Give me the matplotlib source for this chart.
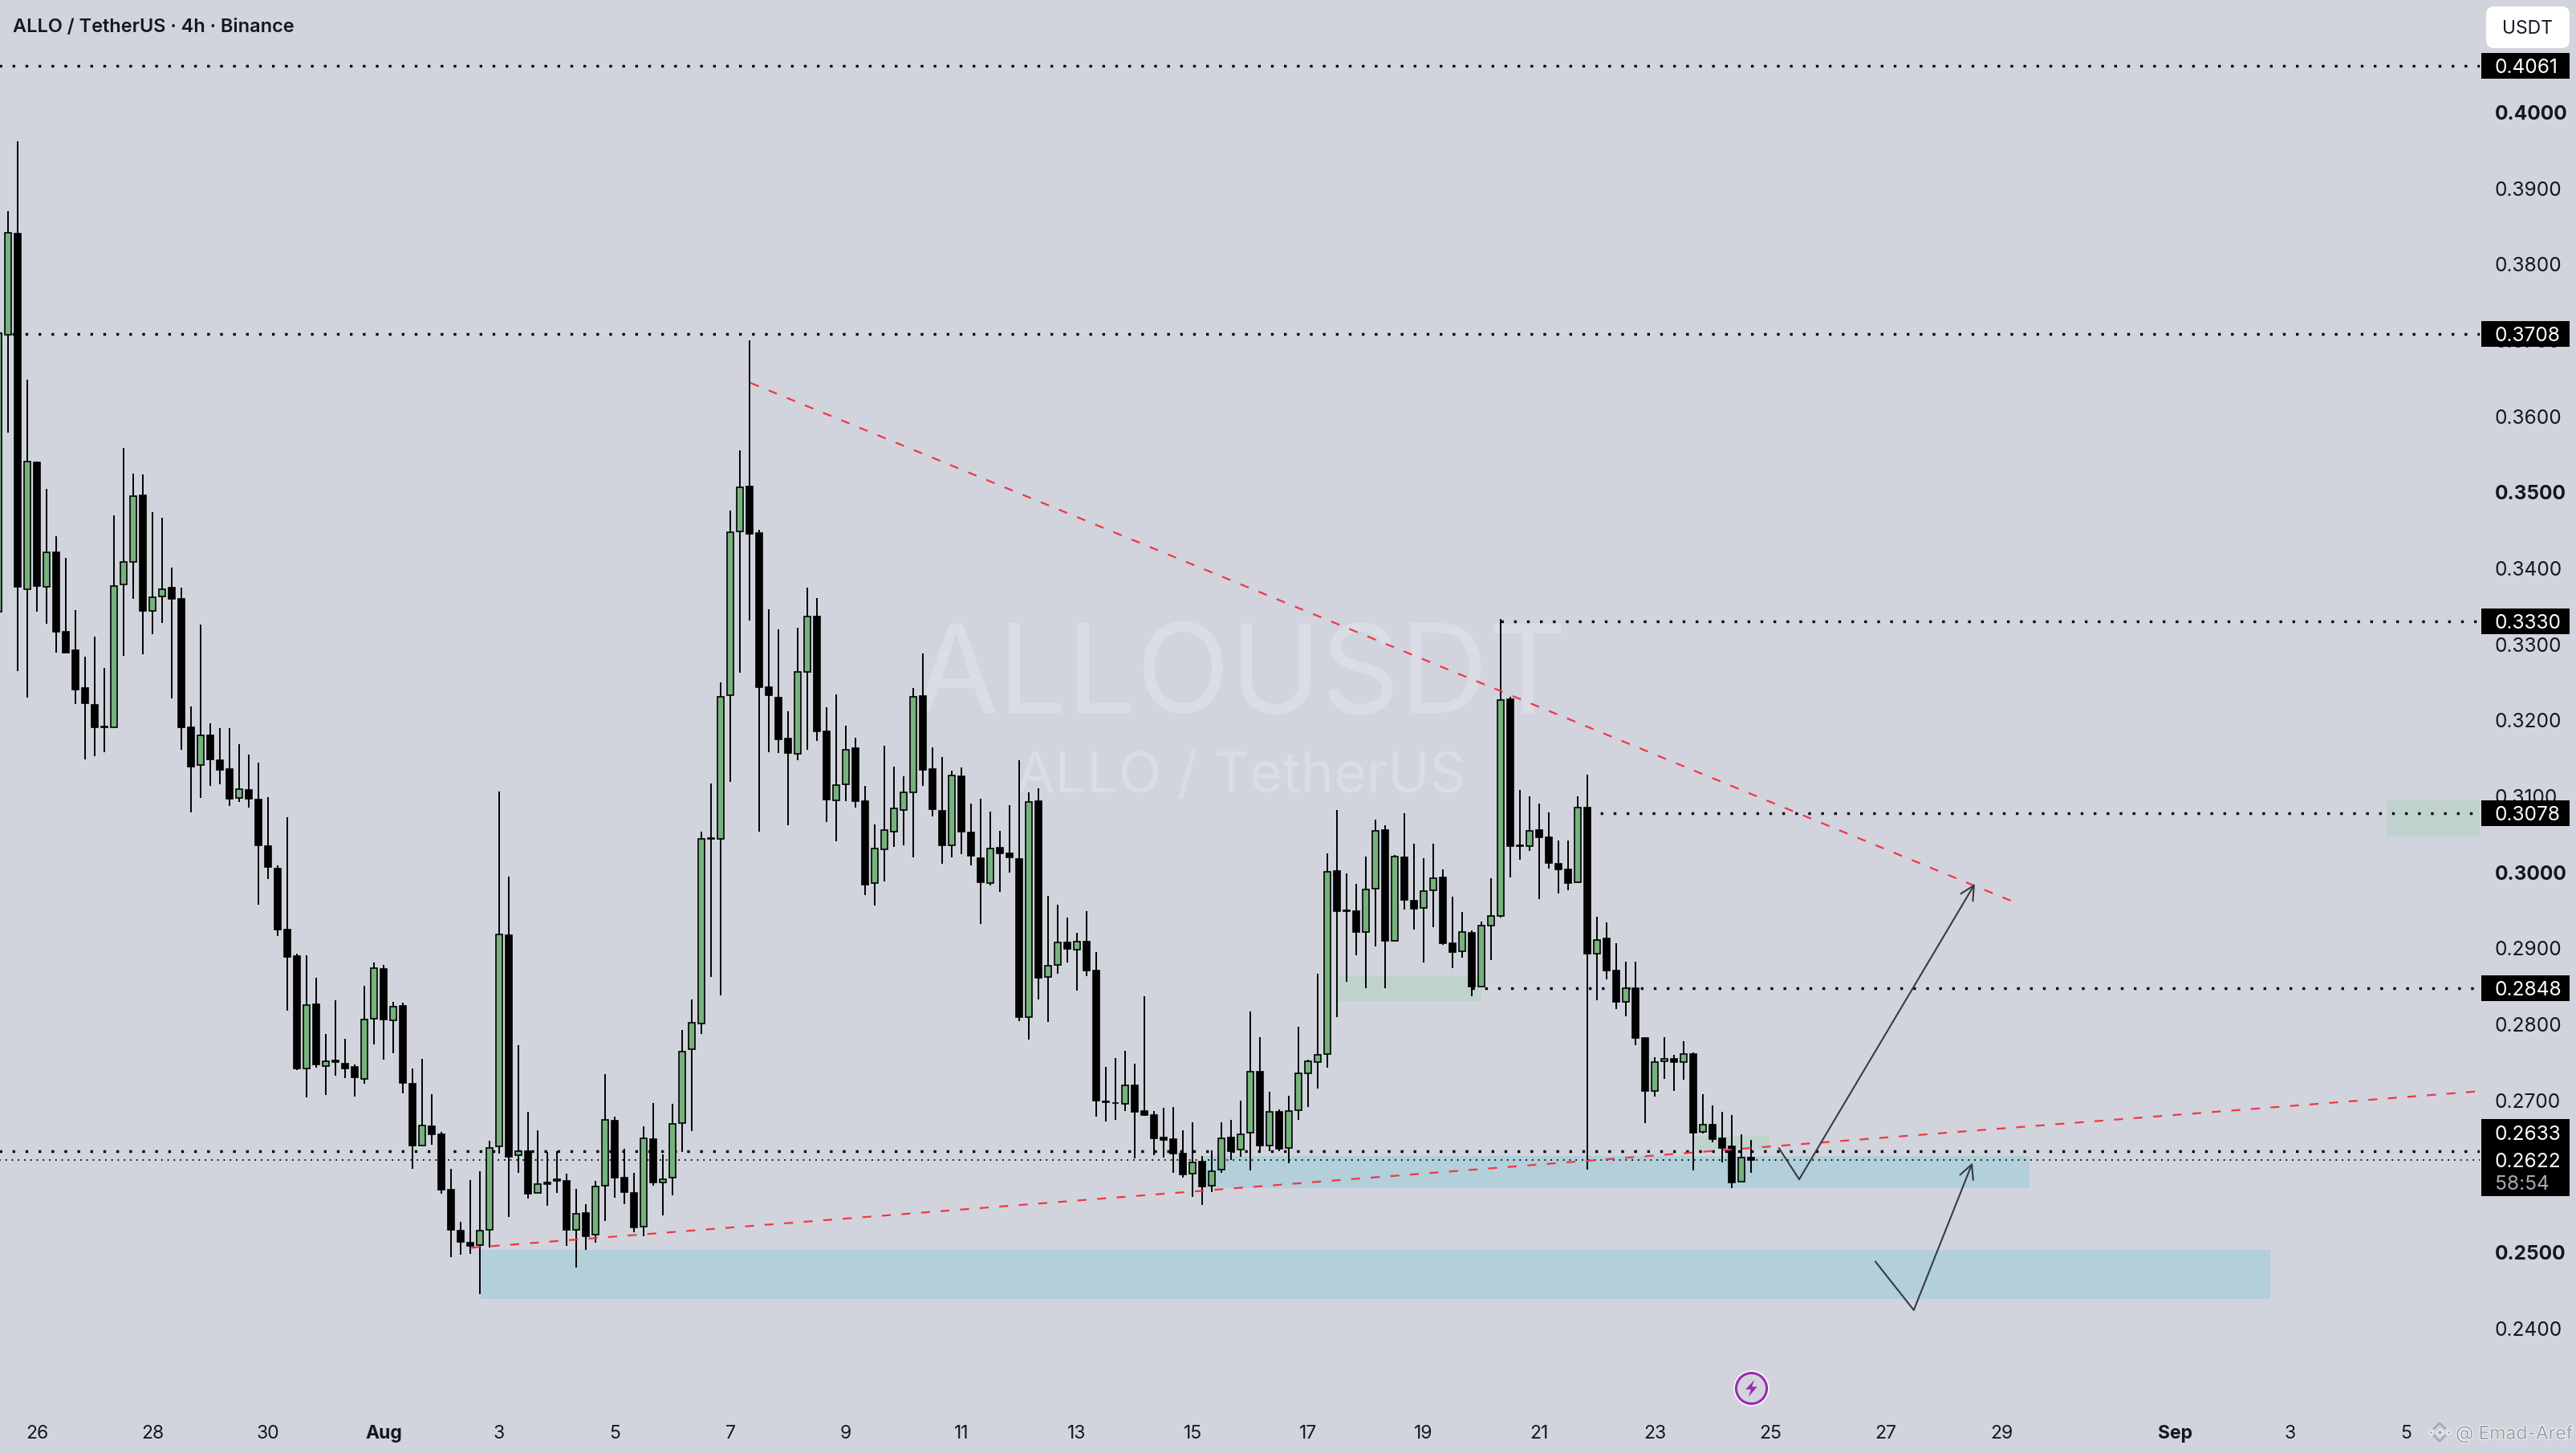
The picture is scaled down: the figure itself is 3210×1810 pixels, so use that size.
import numpy as np
import matplotlib
matplotlib.use('Agg')
import matplotlib.pyplot as plt
import matplotlib.patheffects as pe
from matplotlib.patches import Rectangle, FancyBboxPatch

plt.rcParams['font.family'] = ['Inter', 'DejaVu Sans']

# 4h candles, first one is partly cut by the left edge
opens = [.3343,.3707,.3840,.3372,.3539,.3376,.3421,.3317,.3292,.3243,
         .3220,.3192,.3191,.3379,.3408,.3496,.3344,.3363,.3375,.3360,
         .3191,.3141,.3180,.3147,.3136,.3098,.3108,.3096,.3035,.3005,
         .2925,.2890,.2742,.2826,.2745,.2752,.2748,.2744,.2728,.2807,
         .2873,.2805,.2824,.2722,.2641,.2666,.2655,.2582,.2528,.2513,
         .2509,.2530,.2639,.2917,.2628,.2633,.2578,.2592,.2594,.2594,
         .2530,.2552,.2523,.2588,.2673,.2598,.2578,.2534,.2649,.2592,
         .2598,.2670,.2767,.2801,.3045,.3044,.3233,.3449,.3508,.3446,
         .3244,.3230,.3176,.3156,.3264,.3337,.3186,.3095,.3116,.3163,
         .3094,.2986,.3030,.3054,.3082,.3105,.3232,.3136,.3081,.3036,
         .3126,.3052,.3019,.2986,.3032,.3025,.3018,.2810,.3094,.2862,
         .2878,.2908,.2898,.2909,.2871,.2699,.2697,.2695,.2720,.2686,
         .2681,.2651,.2649,.2630,.2603,.2619,.2588,.2609,.2651,.2635,
         .2657,.2738,.2640,.2685,.2637,.2687,.2736,.2750,.2761,.3002,
         .2950,.2949,.2921,.2979,.3056,.2910,.3020,.2963,.2953,.2976,
         .2993,.2907,.2896,.2920,.2850,.2930,.2943,.3228,.3036,.3035,
         .3056,.3046,.3011,.3004,.2987,.3085,.2893,.2913,.2871,.2830,
         .2847,.2782,.2712,.2751,.2755,.2750,.2761,.2658,.2668,.2650,
         .2639,.2593,.2625]
highs = [.3709,.3870,.3962,.3648,.3540,.3505,.3442,.3414,.3345,.3284,
         .3310,.3269,.3470,.3558,.3525,.3524,.3474,.3467,.3401,.3375,
         .3218,.3326,.3196,.3190,.3190,.3169,.3155,.3144,.3099,.3009,
         .3073,.2893,.2891,.2861,.2787,.2832,.2781,.2747,.2851,.2881,
         .2878,.2830,.2828,.2742,.2755,.2708,.2658,.2610,.2540,.2595,
         .2607,.2647,.3106,.2994,.2773,.2685,.2661,.2632,.2633,.2604,
         .2583,.2563,.2594,.2735,.2679,.2636,.2605,.2666,.2697,.2629,
         .2695,.2793,.2833,.3053,.3117,.3250,.3476,.3555,.3700,.3451,
         .3346,.3320,.3212,.3322,.3375,.3361,.3217,.3234,.3193,.3177,
         .3114,.3063,.3167,.3139,.3126,.3243,.3288,.3164,.3152,.3134,
         .3138,.3090,.3097,.3080,.3055,.3088,.3148,.3105,.3111,.2969,
         .2957,.2940,.2920,.2949,.2895,.2744,.2756,.2765,.2748,.2837,
         .2686,.2690,.2691,.2661,.2671,.2627,.2634,.2671,.2674,.2700,
         .2817,.2783,.2711,.2688,.2706,.2797,.2753,.2867,.3025,.3082,
         .2999,.2985,.3021,.3069,.3062,.3023,.3078,.3038,.3019,.3038,
         .3004,.2968,.2948,.2924,.2935,.2992,.3333,.3231,.3108,.3100,
         .3091,.3079,.3042,.3042,.3100,.3128,.2942,.2934,.2907,.2882,
         .2882,.2782,.2757,.2783,.2760,.2778,.2763,.2708,.2693,.2685,
         .2681,.2655,.2648]
lows = [.3343,.3578,.3265,.3230,.3343,.3327,.3289,.3289,.3221,.3149,
        .3153,.3158,.3191,.3285,.3360,.3287,.3313,.3328,.3229,.3161,
        .3079,.3098,.3114,.3116,.3087,.3093,.3085,.2957,.2991,.2916,
        .2818,.2740,.2704,.2743,.2707,.2732,.2729,.2705,.2722,.2774,
        .2753,.2762,.2709,.2610,.2641,.2642,.2577,.2494,.2497,.2498,
        .2445,.2506,.2630,.2546,.2605,.2571,.2578,.2561,.2578,.2508,
        .2480,.2503,.2513,.2541,.2572,.2563,.2526,.2521,.2588,.2549,
        .2575,.2632,.2659,.2787,.2862,.2838,.3119,.3263,.3331,.3053,
        .3158,.3157,.3062,.3147,.3161,.3173,.3066,.3041,.3094,.3085,
        .2970,.2956,.2988,.3033,.3036,.3020,.3114,.3074,.3011,.3020,
        .3024,.3009,.2932,.2983,.2974,.3000,.2804,.2780,.2833,.2803,
        .2867,.2881,.2844,.2863,.2679,.2672,.2674,.2686,.2624,.2680,
        .2628,.2625,.2605,.2598,.2573,.2562,.2579,.2605,.2622,.2626,
        .2608,.2631,.2633,.2633,.2617,.2674,.2691,.2716,.2743,.2809,
        .2856,.2891,.2847,.2902,.2848,.2909,.2951,.2925,.2881,.2928,
        .2905,.2874,.2888,.2837,.2850,.2885,.2941,.2993,.3017,.3028,
        .2965,.3005,.2972,.2976,.2986,.2609,.2832,.2859,.2820,.2811,
        .2773,.2670,.2705,.2728,.2712,.2727,.2608,.2656,.2645,.2618,
        .2584,.2593,.2605]
closes = [.3709,.3841,.3376,.3540,.3377,.3421,.3317,.3289,.3240,.3223,
          .3191,.3191,.3377,.3408,.3495,.3344,.3362,.3373,.3360,.3191,
          .3139,.3180,.3149,.3135,.3097,.3109,.3097,.3036,.3007,.2925,
          .2889,.2742,.2825,.2747,.2751,.2750,.2742,.2730,.2806,.2874,
          .2806,.2823,.2723,.2640,.2667,.2655,.2582,.2530,.2514,.2508,
          .2529,.2637,.2918,.2626,.2633,.2577,.2590,.2590,.2596,.2530,
          .2551,.2521,.2587,.2674,.2598,.2579,.2533,.2650,.2592,.2596,
          .2669,.2764,.2802,.3044,.3044,.3231,.3447,.3507,.3445,.3244,
          .3233,.3175,.3157,.3264,.3337,.3186,.3096,.3115,.3161,.3094,
          .2984,.3031,.3056,.3084,.3105,.3231,.3135,.3083,.3036,.3127,
          .3053,.3022,.2987,.3031,.3025,.3020,.2809,.3093,.2861,.2877,
          .2908,.2899,.2909,.2871,.2700,.2698,.2696,.2720,.2685,.2681,
          .2650,.2648,.2630,.2602,.2618,.2587,.2607,.2650,.2633,.2655,
          .2738,.2640,.2685,.2636,.2686,.2736,.2751,.2760,.3001,.2949,
          .2949,.2921,.2977,.3055,.2910,.3021,.2964,.2952,.2975,.2992,
          .2907,.2895,.2921,.2850,.2930,.2943,.3227,.3035,.3035,.3055,
          .3046,.3012,.3004,.2986,.3085,.2893,.2911,.2871,.2830,.2847,
          .2782,.2712,.2750,.2755,.2750,.2761,.2657,.2668,.2649,.2637,
          .2592,.2625,.2622]

date_ticks = [3, 15, 27, 39, 51, 63, 75, 87, 99, 111, 123, 135, 147, 159, 171,
              183, 195, 207, 225, 237, 249]
date_labels = ['26', '28', '30', 'Aug', '3', '5', '7', '9', '11', '13', '15',
               '17', '19', '21', '23', '25', '27', '29', 'Sep', '3', '5']
# 0.26 sits behind the last price box, so it never shows
price_ticks = [0.24, 0.25, 0.27, 0.28, 0.29, 0.30, 0.31, 0.32, 0.33,
               0.34, 0.35, 0.36, 0.37, 0.38, 0.39, 0.40]

level_prices = [0.4061, 0.3708, 0.3330, 0.3078, 0.2848]
level_starts = [-1, -1, 155, 164, 152]

# zones: candle from, candle to, price low, price high
blue_zones = [(49.1, 234.9, 0.2439, 0.2503), (124.2, 209.9, 0.2585, 0.2627)]
green_zones = [(138, 153, 0.2831, 0.2863), (175.1, 182.9, 0.2635, 0.2653),
               (247, 256.67, 0.3047, 0.3095)]

down_trend_x, down_trend_y = [77.1, 208.3], [0.3644, 0.2961]
up_trend_x, up_trend_y = [48.1, 256.7], [0.2506, 0.2712]

path1_x, path1_y = [183.9, 186, 204.25], [0.2637, 0.2596, 0.2985]
path2_x, path2_y = [193.9, 197.9, 204], [0.2488, 0.2424, 0.2618]

bg = '#d1d4dc'
green = '#75b27c'
ink = '#131722'
W, H = 3210, 1810

x = np.arange(-1, 182)
opens, highs, lows, closes = map(np.array, (opens, highs, lows, closes))
up = closes >= opens

fig = plt.figure(figsize=(W / 100, H / 100), dpi=100, facecolor=bg)
ax = fig.add_axes([0, 1 - 1760 / H, 3090 / W, 1760 / H], facecolor=bg)
ax.set_xlim(-10 / 12, 3080 / 12)
ax.set_ylim(0.25 - 200 / 9467, 0.25 + 1560 / 9467)
for s in ax.spines.values():
    s.set_visible(False)

# watermark
ax.text(1546 / 12 - 10 / 12, 0.25 + (1560 - 888) / 9467, 'ALLOUSDT', fontsize=110,
        color='#dadde5', ha='center', va='baseline', zorder=0)
ax.text(1546 / 12 - 10 / 12, 0.25 + (1560 - 987) / 9467, 'ALLO / TetherUS', fontsize=50.5,
        color='#dadde5', ha='center', va='baseline', zorder=0)

for x0, x1, p0, p1 in blue_zones:
    ax.add_patch(Rectangle((x0, p0), x1 - x0, p1 - p0, fc='#b2cfda', ec='none', zorder=1))
for x0, x1, p0, p1 in green_zones:
    ax.add_patch(Rectangle((x0, p0), x1 - x0, p1 - p0, fc='#bfd2ce', ec='none', zorder=1))

for p, start in zip(level_prices, level_starts):
    ax.plot([start, 256.67], [p, p], color='black', lw=2.4, ls=(0, (1, 3.85)),
            dash_capstyle='butt', zorder=2)
ax.plot([-1, 256.67], [0.2633, 0.2633], color='black', lw=2.4, ls=(0, (1, 3.85)),
        dash_capstyle='butt', zorder=2)
ax.plot([-1, 256.67], [0.2622, 0.2622], color='black', lw=1.3, ls=(0, (1, 3.3)),
        dash_capstyle='butt', zorder=2)

# candles
ax.vlines(x, lows, highs, color='black', lw=1.4, zorder=3)
bottoms = np.minimum(opens, closes)
heights = np.maximum(np.abs(closes - opens), 0.00005)
ax.bar(x, heights, bottom=bottoms, width=0.72, color=np.where(up, green, 'black'),
       edgecolor='black', linewidth=1.2, zorder=4)

for lx, ly in ((down_trend_x, down_trend_y), (up_trend_x, up_trend_y)):
    ax.plot(lx, ly, color='#f23645', lw=1.6, ls=(0, (5, 6)), zorder=5)

for px, py in ((path1_x, path1_y), (path2_x, path2_y)):
    ax.plot(px[:2], py[:2], color='#363a45', lw=1.5, zorder=6, solid_capstyle='round')
    ax.annotate('', xy=(px[2], py[2]), xytext=(px[1], py[1]), zorder=6,
                arrowprops=dict(arrowstyle='->,head_length=0.9,head_width=0.45', color='#363a45',
                                lw=1.5, shrinkA=0, shrinkB=0, mutation_scale=14))

# lightning mark
ax.plot([181], [0.23215], marker='o', ms=32, mfc='white', mec='white', mew=0, zorder=6)
ax.plot([181], [0.23215], marker='o', ms=27.5, mfc=bg, mec='#9c27b0', mew=2.2, zorder=6)
bolt = [(0.35, 1), (-0.7, -0.12), (-0.05, -0.12), (-0.35, -1), (0.7, 0.2), (0.05, 0.2)]
ax.plot([181], [0.23215], marker=bolt, ms=15, mfc='#9c27b0', mec='none', zorder=7)

# axes labels
ax.set_xticks(date_ticks)
ax.set_xticklabels(date_labels)
ax.yaxis.tick_right()
ax.set_yticks(price_ticks)
ax.set_yticklabels(['%.4f' % p for p in price_ticks])
ax.tick_params(axis='x', length=0, pad=11, labelsize=16.5, labelcolor=ink)
ax.tick_params(axis='y', length=0, pad=13.5, labelsize=17.6, labelcolor=ink)
for t, p in zip(ax.get_yticklabels(), price_ticks):
    if round(p * 100) % 5 == 0:
        t.set_fontweight('bold')
for t in ax.get_xticklabels():
    if t.get_text() in ('Aug', 'Sep'):
        t.set_fontweight('bold')

# price boxes on the right scale
box_x, box_w = 3082 / 12, 110 / 12
label_x = 3099 / 12


def price_box(p_top, p_bottom):
    ax.add_patch(Rectangle((box_x, p_bottom), box_w, p_top - p_bottom, fc='black', ec='none',
                           clip_on=False, zorder=8))


for p in level_prices:
    price_box(p + 16 / 9467, p - 16 / 9467)
    ax.text(label_x, p, '%.4f' % p, color='white', fontsize=17.6, va='center_baseline', ha='left',
            clip_on=False, zorder=9)

price_box(0.25 + 166 / 9467, 0.25 + 70 / 9467)
ax.text(label_x, 0.25 + 149 / 9467, '0.2633', color='white', fontsize=17.6, va='center_baseline', zorder=9)
ax.text(label_x, 0.2622, '0.2622', color='white', fontsize=17.6, va='center_baseline', zorder=9)
ax.text(label_x, 0.25 + 87 / 9467, '58:54', color='#a8aaaf', fontsize=17.6, va='center_baseline', zorder=9)

# USDT button
fig.add_artist(FancyBboxPatch((3098 + 10, H - 60 + 10), 84, 32, boxstyle='round,pad=10,rounding_size=10',
                              fc='white', ec='none', transform=None))
fig.text(3150 / W, 1 - 34 / H, 'USDT', fontsize=16.5, color=ink, ha='center', va='center_baseline')

fig.text(16 / W, 1 - 40 / H, 'ALLO / TetherUS \u00b7 4h \u00b7 Binance', fontsize=16.9, fontweight='semibold',
         color=ink, ha='left', va='baseline')

# footer tag
ax.text(3060 / 12 - 10 / 12, 0.25 - 224 / 9467, '@ Emad-Aref', fontsize=16.5, color='#9a9da5',
        va='center_baseline', ha='left', clip_on=False, zorder=9,
        path_effects=[pe.withStroke(linewidth=1.2, foreground='white')])
logo_k, logo_p = 252.5, 0.25 - 224 / 9467
ax.plot([logo_k], [logo_p], marker='D', ms=4, mfc='#a8abb3', mec='white', mew=0.8, clip_on=False, zorder=9)
for dx, dy in ((-0.9, 0), (0.9, 0)):
    ax.plot([logo_k + dx], [logo_p + dy], marker='D', ms=3, mfc='#a8abb3', mec='white', mew=0.8,
            clip_on=False, zorder=9)
ax.plot([logo_k - 0.55, logo_k, logo_k + 0.55], [logo_p + 0.0005, logo_p + 0.0012, logo_p + 0.0005],
        color='#a8abb3', lw=2, clip_on=False, zorder=9)
ax.plot([logo_k - 0.55, logo_k, logo_k + 0.55], [logo_p - 0.0005, logo_p - 0.0012, logo_p - 0.0005],
        color='#a8abb3', lw=2, clip_on=False, zorder=9)

fig.savefig('out.png', dpi=100, facecolor=bg)
